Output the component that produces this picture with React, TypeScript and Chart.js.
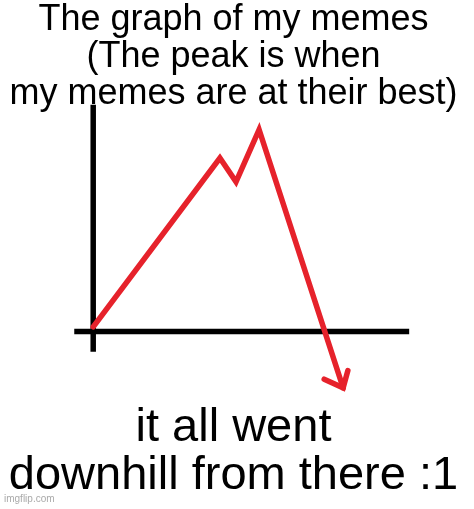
import React, { useRef, useEffect } from "react";
import Chart from "chart.js/auto";

// meme quality over time (x: time, y: quality), origin where the axes cross
const memeTime = [0, 40.1, 45.2, 52.5, 79.1];
const memeQuality = [2, 76.5, 66, 89, -24.9];

// the two strokes of the arrow head
const arrowTime = [73.1, 79.1, 80.6];
const arrowQuality = [-21.1, -24.9, -17.3];

// hand drawn axes
const xAxisTime = [-6, 100];
const xAxisQuality = [0, 0];
const yAxisTime = [0, 0];
const yAxisQuality = [-9, 100];

const titleLines = [
  "The graph of my memes",
  "(The peak is when",
  "my memes are at their best)",
];
const bottomLines = ["it all went", "downhill from there :1"];

const RED = "#e6222b";

const toPoints = (xs: number[], ys: number[]) =>
  xs.map((x, i) => ({ x, y: ys[i] }));

const App: React.FC = () => {
  const canvasRef = useRef<HTMLCanvasElement | null>(null);

  useEffect(() => {
    if (!canvasRef.current) return;

    const chart = new Chart(canvasRef.current, {
      type: "line",
      data: {
        datasets: [
          {
            label: "memes",
            data: toPoints(memeTime, memeQuality),
            borderColor: RED,
            borderWidth: 5.5,
            borderCapStyle: "round",
            borderJoinStyle: "miter",
            pointRadius: 0,
            clip: false,
            order: 0,
          },
          {
            label: "arrow",
            data: toPoints(arrowTime, arrowQuality),
            borderColor: RED,
            borderWidth: 5.5,
            borderCapStyle: "round",
            borderJoinStyle: "miter",
            pointRadius: 0,
            clip: false,
            order: 1,
          },
          {
            label: "x axis",
            data: toPoints(xAxisTime, xAxisQuality),
            borderColor: "#000",
            borderWidth: 5.5,
            borderCapStyle: "butt",
            pointRadius: 0,
            clip: false,
            order: 2,
          },
          {
            label: "y axis",
            data: toPoints(yAxisTime, yAxisQuality),
            borderColor: "#000",
            borderWidth: 5.5,
            borderCapStyle: "butt",
            pointRadius: 0,
            clip: false,
            order: 3,
          },
        ],
      },
      options: {
        animation: false,
        responsive: false,
        events: [],
        // the meme text sits a little left of centre
        layout: { padding: { left: 0, right: 7, top: 0, bottom: 0 } },
        scales: {
          x: { type: "linear", min: -29.5, max: 118.3, display: false },
          y: { type: "linear", min: -25, max: 95, display: false },
        },
        plugins: {
          legend: { display: false },
          tooltip: { enabled: false },
          title: {
            display: true,
            text: titleLines,
            color: "#000",
            font: { family: "'Liberation Sans', Arial, sans-serif", size: 36, weight: "normal", lineHeight: 1.02 },
            padding: { top: 2, bottom: 4 },
          },
          subtitle: {
            display: true,
            position: "bottom",
            text: bottomLines,
            color: "#000",
            font: { family: "'Liberation Sans', Arial, sans-serif", size: 47, weight: "normal", lineHeight: 1.021 },
            padding: { top: 16, bottom: 9 },
          },
        },
      },
    });

    return () => chart.destroy();
  }, []);

  return (
    <div style={{ position: "fixed", left: 0, top: 0, width: 474, height: 509, background: "#fff" }}>
      <canvas ref={canvasRef} width={474} height={509} style={{ width: 474, height: 509 }} />
      <div
        style={{
          position: "absolute",
          left: 4,
          top: 493,
          fontFamily: "'Liberation Sans', Arial, sans-serif",
          fontSize: 10,
          color: "#aaa",
        }}
      >
        imgflip.com
      </div>
    </div>
  );
};

export default App;
